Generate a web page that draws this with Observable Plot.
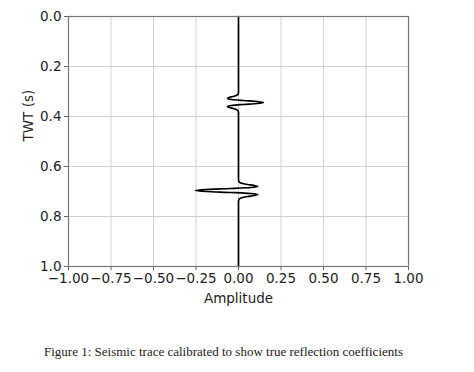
<!DOCTYPE html>
<html>
<head>
<meta charset="utf-8">
<script src="https://cdn.jsdelivr.net/npm/d3@7"></script>
<script src="https://cdn.jsdelivr.net/npm/@observablehq/plot@0.6"></script>
<style>
  html, body { margin: 0; padding: 0; background: #fff; }
  #wrap { position: relative; width: 474px; height: 372px; }
  #caption { position: absolute; left: 44px; top: 344px; font-family: "Liberation Serif", "DejaVu Serif", serif; font-size: 13px; color: #222; white-space: nowrap; }
</style>
</head>
<body>
<div id="wrap">
  <div id="chart"></div>
  <div id="caption">Figure 1: Seismic trace calibrated to show true reflection coefficients</div>
</div>
<script>
// Trace samples: two-way time (s) and amplitude
const twt = [0.0, 0.29, 0.300, 0.308, 0.314, 0.320, 0.324, 0.328, 0.332, 0.336, 0.340, 0.344, 0.348, 0.352, 0.356, 0.360, 0.364, 0.368, 0.374, 0.380, 0.389,
             0.64, 0.651, 0.660, 0.666, 0.672, 0.676, 0.680, 0.684, 0.688, 0.692, 0.696, 0.700, 0.704, 0.708, 0.712, 0.716, 0.720, 0.726, 0.732, 0.741, 1.0];
const amplitude = [0, 0, 0, -0.001, -0.008, -0.031, -0.054, -0.065, -0.041, 0.028, 0.110, 0.147, 0.110, 0.028, -0.041, -0.065, -0.054, -0.031, -0.008, -0.001, 0,
                   0, 0, 0.002, 0.014, 0.053, 0.092, 0.113, 0.071, -0.048, -0.189, -0.253, -0.189, -0.048, 0.071, 0.113, 0.092, 0.053, 0.014, 0.002, 0, 0];
const xTicks = [-1, -0.75, -0.5, -0.25, 0, 0.25, 0.5, 0.75, 1];
const yTicks = [0, 0.2, 0.4, 0.6, 0.8, 1.0];

const trace = twt.map((t, i) => ({twt: t, amp: amplitude[i]}));

const chart = Plot.plot({
  width: 474,
  height: 310,
  marginLeft: 68,
  marginRight: 66,
  marginTop: 16,
  marginBottom: 44,
  style: {fontFamily: "DejaVu Sans", fontSize: "13px", color: "#222", background: "#fff"},
  x: {domain: [-1, 1]},
  y: {domain: [0, 1], reverse: true},
  marks: [
    Plot.gridX(xTicks, {stroke: "#c4c4c4", strokeOpacity: 1, strokeWidth: 0.8}),
    Plot.gridY(yTicks, {stroke: "#c4c4c4", strokeOpacity: 1, strokeWidth: 0.8}),
    Plot.axisX(xTicks, {tickFormat: d3.format(".2f"), tickSize: 4, tickPadding: 3, fontSize: 13.5, label: null, stroke: "#666"}),
    Plot.axisY(yTicks, {tickFormat: d3.format(".1f"), tickSize: 4, tickPadding: 3, fontSize: 13.5, label: null, stroke: "#666"}),
    Plot.line(trace, {x: "amp", y: "twt", curve: "monotone-y", stroke: "black", strokeWidth: 1.7}),
    Plot.frame({stroke: "#777", strokeWidth: 1.2}),
    Plot.text(["Amplitude"], {frameAnchor: "bottom", dy: 32, lineAnchor: "middle", fontSize: 13.5, fill: "#222", text: d => d}),
    Plot.text(["TWT (s)"], {frameAnchor: "left", dx: -40, rotate: -90, fontSize: 13.5, fill: "#222", text: d => d})
  ]
});
document.getElementById("chart").appendChild(chart);
</script>
</body>
</html>
